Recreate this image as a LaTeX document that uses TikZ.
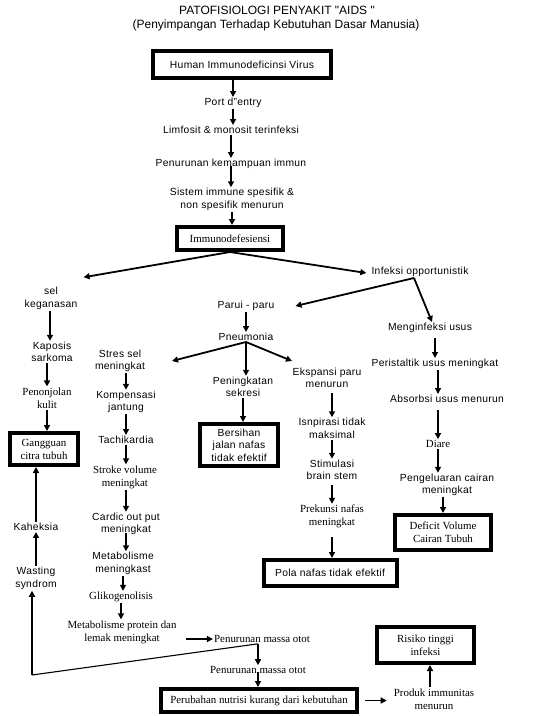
\documentclass[tikz,border=0pt]{standalone}
\usepackage{fontspec}
\setmainfont{Liberation Sans}[LetterSpace=3]
\newfontfamily\seriff{Liberation Serif}
\newfontfamily\titlef{Liberation Sans}
\usetikzlibrary{arrows.meta,calc}
\begin{document}
\begin{tikzpicture}[x=1pt,y=-1pt,
  txt/.style={align=center,inner sep=1pt,font=\fontsize{10.3}{12.5}\selectfont},
  stxt/.style={align=center,inner sep=1pt,font=\seriff\fontsize{10.9}{13}\selectfont},
  bx/.style={draw,line width=4pt,inner sep=1pt,align=center},
  arr/.style={line width=1.8pt,-{Triangle[length=6pt,width=6pt]}},
  thinline/.style={line width=1.1pt},
  ttl/.style={font=\titlef\fontsize{12}{13}\selectfont,inner sep=1pt}]
\useasboundingbox (0,0) rectangle (536,716);
\fill[white] (0,0) rectangle (536,716);
% titles
\node[ttl] (t1) at (277,10) {PATOFISIOLOGI PENYAKIT "AIDS "};
\node[ttl] (t2) at (276,25) {(Penyimpangan Terhadap Kebutuhan Dasar Manusia)};
% central chain
\node[bx,txt,minimum width=178,minimum height=27] (hiv) at (242,64.5) {Human Immunodeficinsi Virus};
\node[txt] (port) at (233,103) {Port d”entry};
\node[txt] (limf) at (231,130) {Limfosit \& monosit terinfeksi};
\node[txt] (penur) at (231,164) {Penurunan kemampuan immun};
\node[txt] (sist) at (232,199.5) {Sistem immune spesifik \&\\non spesifik menurun};
\node[bx,stxt,minimum width=106,minimum height=23] (immuno) at (230,238.5) {Immunodefesiensi};
% branches
\node[txt] (sel) at (51,298.5) {sel\\keganasan};
\node[txt] (infeksi) at (420,272) {Infeksi opportunistik};
\node[txt] (parui) at (246,306) {Parui - paru};
\node[txt] (pneu) at (246,337) {Pneumonia};
\node[txt] (meng) at (430,328) {Menginfeksi usus};
% left column
\node[txt] (kapo) at (52,352) {Kaposis\\sarkoma};
\node[stxt] (peno) at (47,398) {Penonjolan\\kulit};
\node[bx,stxt,minimum width=68,minimum height=32] (gang) at (44,449) {Gangguan\\citra tubuh};
\node[txt] (kahe) at (36,527) {Kaheksia};
\node[txt] (wast) at (36,578.5) {Wasting\\syndrom};
% stres column
\node[txt] (stres) at (120,361) {Stres sel\\meningkat};
\node[txt] (komp) at (126,402) {Kompensasi\\jantung};
\node[txt] (tachi) at (126,440) {Tachikardia};
\node[stxt] (stroke) at (125,477) {Stroke volume\\meningkat};
\node[txt] (card) at (126,524) {Cardic out put\\meningkat};
\node[txt] (metab) at (123,563.5) {Metabolisme\\meningkast};
\node[stxt] (gliko) at (121,597) {Glikogenolisis};
\node[stxt] (metprot) at (122,632) {Metabolisme protein dan\\lemak meningkat};
\node[stxt] (massa1) at (262,639) {Penurunan massa otot};
\node[stxt] (massa2) at (258,670) {Penurunan massa otot};
\node[bx,stxt,minimum width=196,minimum height=23] (perub) at (259,700.5) {Perubahan nutrisi kurang dari kebutuhan};
\node[stxt] (produk) at (434,699) {Produk immunitas\\menurun};
\node[bx,stxt,minimum width=97,minimum height=36] (risiko) at (425.5,645) {Risiko tinggi\\infeksi};
% pneumonia columns
\node[txt] (pening) at (243,387) {Peningkatan\\sekresi};
\node[bx,txt,minimum width=78,minimum height=42] (bersih) at (239,445) {Bersihan\\jalan nafas\\tidak efektif};
\node[txt] (ekspa) at (327,378) {Ekspansi paru\\menurun};
\node[txt] (isnp) at (332,428.5) {Isnpirasi tidak\\maksimal};
\node[txt] (stim) at (332,470) {Stimulasi\\brain stem};
\node[stxt] (prek) at (332,516.5) {Prekunsi nafas\\meningkat};
\node[bx,txt,minimum width=133,minimum height=26] (pola) at (330,573) {Pola nafas tidak efektif};
% usus column
\node[txt] (peri) at (435,364) {Peristaltik usus meningkat};
\node[txt] (absor) at (447,399) {Absorbsi usus menurun};
\node[stxt] (diare) at (438,444) {Diare};
\node[txt] (penge) at (447,485) {Pengeluaran cairan\\meningkat};
\node[bx,stxt,minimum width=96,minimum height=35] (defic) at (443,532.5) {Deficit Volume\\Cairan Tubuh};
% connectors: central chain
\draw[arr] (hiv.south -| port) -- (port.north);
\draw[arr] (port.south) -- (port.south |- limf.north);
\draw[arr] (limf.south) -- (limf.south |- penur.north);
\draw[arr] ([yshift=4pt]penur.south) -- (penur.south |- sist.north);
\draw[arr] (sist.south) -- (sist.south |- immuno.north);
\draw[arr] (immuno.south) -- ([shift={(5pt,9pt)}]sel.north east);
\draw[arr] (immuno.south) -- ([shift={(-4pt,-1pt)}]infeksi.west);
\draw[arr] ([xshift=-6pt]infeksi.south) -- ([xshift=20pt]parui.east);
\draw[arr] ([xshift=-6pt]infeksi.south) -- ([xshift=2pt]meng.north);
\draw[arr] (parui.south) -- (pneu.north);
\draw[arr] (pneu.south) -- ([shift={(52pt,0pt)}]stres.center);
\draw[arr] (pneu.south) -- (pneu.south |- pening.north);
\draw[arr] (pneu.south) -- ([shift={(-35pt,17pt)}]ekspa.center);
% left column
\draw[arr] ([xshift=-1pt]sel.south) -- ([xshift=-1pt]sel.south |- kapo.north);
\draw[arr] (kapo.south -| peno) -- (peno.north);
\draw[arr] (peno.south) -- (peno.south |- gang.north);
\draw[arr] (kahe.north) -- (kahe.north |- gang.south);
\draw[arr] (wast.north) -- (kahe.south);
% stres column
\draw[arr] (stres.south -| komp) -- (komp.north);
\draw[arr] (komp.south) -- (tachi.north);
\draw[arr] (tachi.south) -- (tachi.south |- stroke.north);
\draw[arr] (stroke.south -| card) -- (card.north);
\draw[arr] ([yshift=3pt]card.south) -- (card.south |- metab.north);
\draw[arr] (metab.south) -- (metab.south |- gliko.north);
\draw[arr] (gliko.south) -- (gliko.south |- metprot.north);
\draw[arr] ([xshift=8pt]metprot.east |- massa1.west) -- (massa1.west);
\draw[arr] (massa1.south -| massa2) -- (massa2.north);
\coordinate (bend) at (32,675);
\draw[thinline] (massa1.south -| massa2) -- (bend);
\draw[arr,line width=1.4pt] (bend) -- (bend |- wast.south);
\draw[arr] ([yshift=3pt]massa2.south) -- (massa2.south |- perub.north);
\draw[arr] ([xshift=6pt]perub.east) -- ([xshift=-6pt]produk.west |- perub.east);
\draw[arr] ([xshift=-4pt]produk.north) -- ([xshift=-4pt]produk.north |- risiko.south);
% pneumonia columns
\draw[arr] (pening.south) -- (pening.south |- bersih.north);
\draw[arr] ([yshift=-4pt]ekspa.south -| isnp) -- (isnp.north);
\draw[arr] (isnp.south) -- (stim.north);
\draw[arr] ([yshift=-4pt]stim.south) -- (prek.north);
\draw[arr] ([yshift=-8pt]prek.south) -- (prek.south |- pola.north);
% usus column
\draw[arr] ([yshift=-4pt]meng.south -| peri) -- (peri.north);
\draw[arr] ([xshift=3pt]peri.south) -- ([xshift=3pt]peri.south |- absor.north);
\draw[arr] ([yshift=-6pt]absor.south -| diare) -- (diare.north);
\draw[arr] (diare.south) -- (diare.south |- penge.north);
\draw[arr] (penge.south -| defic) -- (defic.north);
\end{tikzpicture}
\end{document}
